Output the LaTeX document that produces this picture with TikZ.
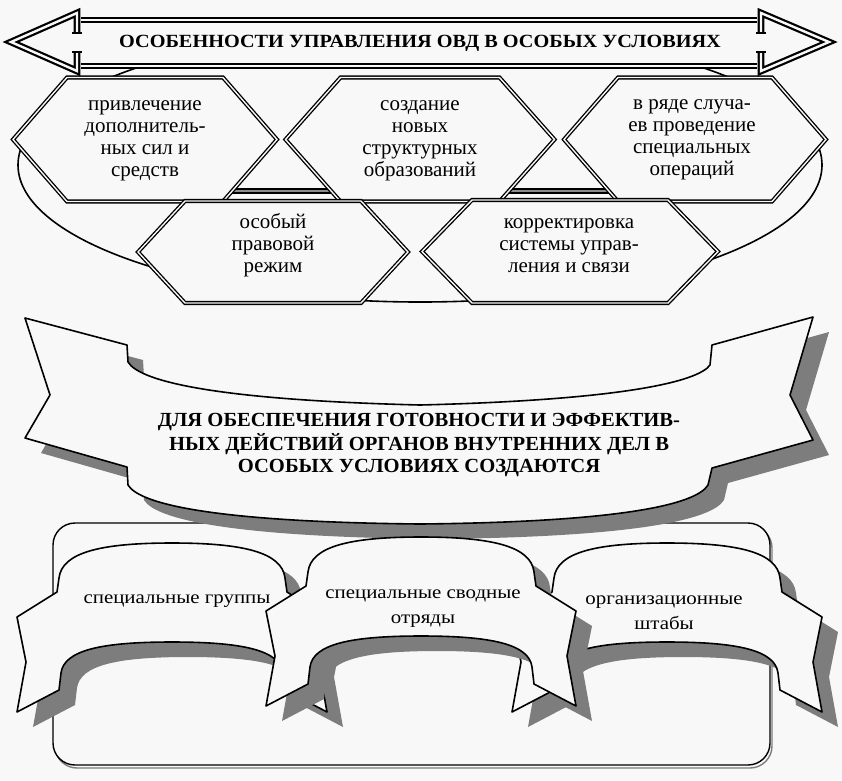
\documentclass[tikz,border=0pt]{standalone}
\usepackage{fontspec}
\setmainfont{Liberation Serif}
\usepackage{graphicx}
\definecolor{bgc}{RGB}{248,248,248}
\definecolor{shd}{RGB}{125,125,125}
\newcommand\hexpath[6]{% cx cy w s h style
  \path[#6] ({#1-#3},#2) -- ({#1-#3+#4},{#2-#5}) -- ({#1+#3-#4},{#2-#5}) -- ({#1+#3},#2)
     -- ({#1+#3-#4},{#2+#5}) -- ({#1-#3+#4},{#2+#5}) -- cycle;}
\newcommand\ribpath[3]{% cx dy style
  \path[#3] ({#1-113},{578+#2}) .. controls ({#1-110},{552+#2}) and ({#1-70},{543+#2}) .. ({#1},{543+#2})
    .. controls ({#1+70},{543+#2}) and ({#1+110},{552+#2}) .. ({#1+113},{578+#2})
    -- ({#1+115},{592+#2}) -- ({#1+155},{617+#2}) -- ({#1+146},{662+#2}) -- ({#1+155},{712+#2})
    -- ({#1+113},{690+#2}) -- ({#1+111},{673+#2})
    .. controls ({#1+108},{650+#2}) and ({#1+70},{642+#2}) .. ({#1},{642+#2})
    .. controls ({#1-70},{642+#2}) and ({#1-108},{650+#2}) .. ({#1-111},{673+#2})
    -- ({#1-113},{690+#2}) -- ({#1-155},{712+#2}) -- ({#1-146},{662+#2}) -- ({#1-155},{617+#2})
    -- ({#1-115},{592+#2}) -- cycle;}
\newcommand\bannerpath[1]{%
  \path[#1] (25,318) -- (127,345) -- (128,362) .. controls (140,382) and (220,400) .. (420,405)
    .. controls (620,400) and (698,382) .. (710,365) -- (712,345) -- (813,317) -- (790,395)
    -- (813,440) -- (712,468) -- (708,485) .. controls (696,505) and (618,522) .. (420,524)
    .. controls (220,522) and (140,505) .. (128,485) -- (127,467) -- (25,438) -- (50,395) -- cycle;}
\begin{document}
\begin{tikzpicture}[x=1pt,y=-1pt,
  hexa/.style={fill=bgc, draw=black, line width=1.35pt, double=bgc, double distance=1.4pt, line join=miter},
  arrline/.style={draw=black, line width=2.2pt, double=bgc, double distance=2.4pt, line join=miter},
  bandline/.style={draw=black, line width=1.6pt, double=black!45, double distance=2.6pt},
  solid1/.style={fill=bgc, draw=black, line width=1.6pt, line join=round},
  shadowfill/.style={fill=shd, draw=none},
  hextext/.style={align=center, inner sep=0pt, font=\fontsize{21}{22}\selectfont},
  ribtext/.style={inner sep=0pt, font=\fontsize{18.5}{25}\selectfont},
]
\useasboundingbox[fill=bgc] (0,0) rectangle (842,780);

% ---------- bottom frame ----------
\draw[shd, line width=1.4pt, rounded corners=22pt] (55,526) rectangle (772,768);
\draw[fill=bgc, draw=black, line width=1.4pt, rounded corners=22pt] (53,523) rectangle (770,765);

% ---------- main banner ----------
\begin{scope}[shift={(16,15)}]
  \bannerpath{shadowfill}
\end{scope}
\bannerpath{solid1}
\node[inner sep=0pt, align=center, font=\fontsize{20}{22.5}\selectfont\bfseries] (bantext) at (419,445)
  {\scalebox{1.03}[1]{\begin{tabular}{@{}c@{}}ДЛЯ ОБЕСПЕЧЕНИЯ ГОТОВНОСТИ И ЭФФЕКТИВ-\\НЫХ ДЕЙСТВИЙ ОРГАНОВ ВНУТРЕННИХ ДЕЛ В\\ОСОБЫХ УСЛОВИЯХ СОЗДАЮТСЯ\end{tabular}}};

% ---------- bottom ribbons ----------
\begin{scope}[shift={(16,15)}]\ribpath{172}{0}{shadowfill}\end{scope}
\ribpath{172}{0}{solid1}
\begin{scope}[shift={(16,15)}]\ribpath{667}{0}{shadowfill}\end{scope}
\ribpath{667}{0}{solid1}
\begin{scope}[shift={(16,15)}]\ribpath{421}{-6}{shadowfill}\end{scope}
\ribpath{421}{-6}{solid1}
\node[ribtext] (r1) at (177,601) {\scalebox{1.13}[1]{специальные группы}};
\node[ribtext] (r2) at (423,606) {\scalebox{1.13}[1]{\begin{tabular}{@{}c@{}}специальные сводные\\отряды\end{tabular}}};
\node[ribtext] (r3) at (664,612) {\scalebox{1.13}[1]{\begin{tabular}{@{}c@{}}организационные\\штабы\end{tabular}}};

% ---------- top section ----------
\draw[fill=bgc, draw=black, line width=1.6pt] (420,165) ellipse [x radius=402pt, y radius=137pt];
\draw[bandline] (220,191) -- (772,191);
\hexpath{145}{139.5}{132}{54}{62}{hexa}
\hexpath{420}{139.5}{134.5}{55}{62}{hexa}
\hexpath{695}{139.5}{131}{54}{62}{hexa}
\hexpath{273}{252}{135}{47}{51}{hexa}
\hexpath{570}{251.5}{148}{50}{51.5}{hexa}
\node[hextext] (h1) at (145,141) {привлечение\\дополнитель-\\ных сил и\\средств};
\node[hextext] (h2) at (420,141) {создание\\новых\\структурных\\образований};
\node[hextext] (h3) at (692,140) {в ряде случа-\\ев проведение\\специальных\\операций};
\node[hextext] (h4) at (273,245) {особый\\правовой\\режим};
\node[hextext] (h5) at (569,246) {корректировка\\системы управ-\\ления и связи};

% ---------- top double arrow ----------
\fill[bgc] (11,42) -- (77,13) -- (77,20) -- (761,20) -- (761,13) -- (829,42) -- (761,71)
  -- (761,65) -- (77,65) -- (77,71) -- cycle;
\draw[arrline] (81,20) -- (757,20);
\draw[arrline] (81,66) -- (757,66);
\draw[arrline] (77,33) -- (77,13) -- (11,42) -- (77,71) -- (77,52);
\draw[arrline] (761,33) -- (761,13) -- (829,42) -- (761,71) -- (761,52);
\draw[black, line width=2.2pt] (72.2,33) -- (81.8,33) (72.2,52) -- (81.8,52)
  (756.2,33) -- (765.8,33) (756.2,52) -- (765.8,52);
\node[inner sep=0pt, font=\fontsize{18.6}{20}\selectfont\bfseries] (title) at (420,43)
  {\scalebox{1.09}[1]{ОСОБЕННОСТИ УПРАВЛЕНИЯ ОВД В ОСОБЫХ УСЛОВИЯХ}};
\end{tikzpicture}
\end{document}
